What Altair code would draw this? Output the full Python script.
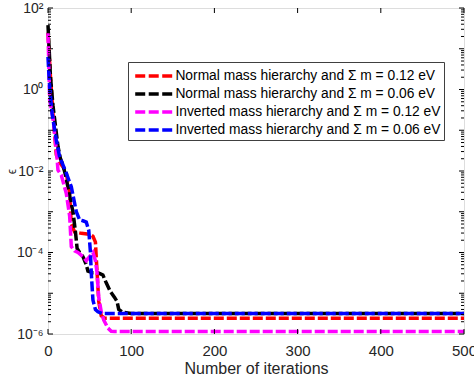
import altair as alt
import pandas as pd

series_names = [
    "Normal mass hierarchy and Σ m = 0.12 eV",
    "Normal mass hierarchy and Σ m = 0.06 eV",
    "Inverted mass hierarchy and Σ m = 0.12 eV",
    "Inverted mass hierarchy and Σ m = 0.06 eV",
]
series_colors = ["#ff0000", "#000000", "#ff00ff", "#0000ff"]

red_x = [0, 3, 6, 10, 14, 18, 22, 26, 28, 32, 40, 50, 54, 57, 59, 61, 64, 68, 75, 500]
red_y = [25, 2, 0.25, 0.025, 0.016, 0.0126, 0.0089, 0.0028, 5e-4, 3.2e-4, 2.95e-4, 2.8e-4,
         2.5e-4, 1.8e-4, 3.2e-5, 6.3e-6, 2.8e-6, 2.45e-6, 2.45e-6, 2.45e-6]

black_x = [0, 3, 6, 9, 12, 15, 18, 21, 24, 27, 30, 33, 35, 38, 42, 46, 48, 54, 60, 63, 66,
           70, 75, 80, 83, 85, 90, 100, 500]
black_y = [38, 2.0, 0.4, 0.126, 0.04, 0.02, 0.014, 0.0079, 0.004, 0.002, 0.001, 3.2e-4,
           1.26e-4, 1e-4, 7.9e-5, 5e-5, 3.5e-5, 3.2e-5, 3.2e-5, 3.0e-5, 2.8e-5, 1.8e-5,
           1.1e-5, 7.9e-6, 6.3e-6, 4e-6, 3.4e-6, 3.2e-6, 3.2e-6]

magenta_x = [0, 2, 6, 10, 12, 16, 22, 26, 28, 32, 36, 42, 46, 50, 54, 57, 59, 61, 64, 67,
             72, 76, 80, 500]
magenta_y = [24, 0.55, 0.2, 0.033, 0.0105, 0.0079, 0.0028, 7.9e-4, 1.4e-4, 1.1e-4, 1e-4,
             7.9e-5, 6.3e-5, 7.9e-5, 1e-4, 6.3e-5, 3.2e-5, 7.9e-6, 3.5e-6, 2.2e-6, 1.4e-6,
             1.17e-6, 1.15e-6, 1.15e-6]

blue_x = [0, 1, 2, 5, 10, 14, 18, 22, 28, 32, 34, 38, 42, 46, 49, 51, 52, 54, 57, 60, 65, 500]
blue_y = [6.3, 2.5, 1.15, 0.25, 0.058, 0.022, 0.014, 0.0089, 0.0041, 0.0016, 0.001, 6.3e-4,
          6e-4, 5.6e-4, 3.5e-4, 1e-4, 3.2e-5, 6.8e-6, 4e-6, 3.5e-6, 3.2e-6, 3.2e-6]

x_ticks = [0, 100, 200, 300, 400, 500]
y_major = [1e-6, 1e-4, 1e-2, 1, 100]

# decade ticks and minor ticks of the log axis (MATLAB style)
y_decades = [float(f"1e{e}") for e in range(-6, 3)]
y_minor = [float(f"{m}e{e}") for e in range(-6, 2) for m in range(2, 10)]

W, H = 416, 326
MAJ, MIN = 5, 3

frames = []
for name, xs, ys in zip(series_names, [red_x, black_x, magenta_x, blue_x],
                        [red_y, black_y, magenta_y, blue_y]):
    frames.append(pd.DataFrame({"iter": xs, "eps": ys, "series": name}))
df = pd.concat(frames, ignore_index=True)

dec_df = pd.DataFrame({"eps": y_decades})
minor_df = pd.DataFrame({"eps": y_minor})
xtick_df = pd.DataFrame({"iter": x_ticks})

FONT = "Liberation Sans"
TXT = "#262626"

xscale = alt.Scale(domain=[0, 500], nice=False)
yscale = alt.Scale(type="log", domain=[1e-6, 100], nice=False)

label_expr = ("datum.value == 100 ? '10²' : datum.value == 1 ? '10⁰' : "
              "datum.value == 0.01 ? '10⁻²' : datum.value == 0.0001 ? '10⁻⁴' : "
              "datum.value == 0.000001 ? '10⁻⁶' : ''")

color = alt.Color(
    "series:N",
    scale=alt.Scale(domain=series_names, range=series_colors),
    legend=alt.Legend(
        title=None, orient="none", legendX=80, legendY=54,
        strokeColor="#404040", fillColor="white", padding=3,
        symbolType="M-0.77,0H3.43", symbolSize=310, symbolStrokeWidth=3.5,
        symbolDash=[10, 3.5], labelFont=FONT, labelFontSize=13.8, labelColor="#000",
        labelOffset=22.4, rowPadding=0, symbolOpacity=1, labelLimit=400,
        symbolFillColor="transparent",
    ),
)

x_axis = alt.Axis(
    values=x_ticks, title="Number of iterations", orient="bottom",
    ticks=False, domain=False, labelPadding=9,
    labelFont=FONT, labelFontSize=15, labelColor=TXT,
    titleFont=FONT, titleFontSize=16, titleFontWeight="normal",
    titleColor=TXT, titlePadding=2, labelFlush=False, labelOverlap=False, grid=False)
y_axis = alt.Axis(
    values=y_major, labelExpr=label_expr, title="ϵ", orient="left",
    ticks=False, domain=False, labelPadding=5,
    labelFont=FONT, labelFontSize=14, labelColor=TXT,
    titleFont=FONT, titleFontSize=12, titleFontWeight="normal",
    titleColor=TXT, titleX=-30, titleY=163, labelOverlap=False, grid=False)


def line_layer(name):
    return alt.Chart(df).transform_filter(alt.datum.series == name).mark_line(
        strokeWidth=3.5, strokeDash=[10, 3], interpolate="linear"
    ).encode(
        x=alt.X("iter:Q", scale=xscale, axis=x_axis),
        y=alt.Y("eps:Q", scale=yscale, axis=y_axis),
        color=color,
    )

# inward ticks on all four sides
tick_style = dict(color="#000000", strokeWidth=1)


def ytick_layer(data, x0, x1):
    return alt.Chart(data).mark_rule(**tick_style).encode(
        y=alt.Y("eps:Q", scale=yscale, axis=y_axis),
        x=alt.value(x0), x2=alt.value(x1),
    )


def xtick_layer(y0, y1):
    return alt.Chart(xtick_df).mark_rule(**tick_style).encode(
        x=alt.X("iter:Q", scale=xscale, axis=x_axis),
        y=alt.value(y0), y2=alt.value(y1),
    )

tick_layers = [
    ytick_layer(dec_df, 0, MAJ), ytick_layer(minor_df, 0, MIN),
    ytick_layer(dec_df, W, W - MAJ), ytick_layer(minor_df, W, W - MIN),
    xtick_layer(H, H - MAJ), xtick_layer(0, MAJ),
]

chart = alt.layer(*[line_layer(n) for n in series_names], *tick_layers).properties(
    width=W, height=H,
    padding={"left": 48, "top": 8, "right": 10, "bottom": 41},
    autosize=alt.AutoSizeParams(type="none"),
).configure_view(stroke=TXT, strokeWidth=1).configure(background="white")

chart.save("out.html", embed_options={"renderer": "svg", "actions": False})
